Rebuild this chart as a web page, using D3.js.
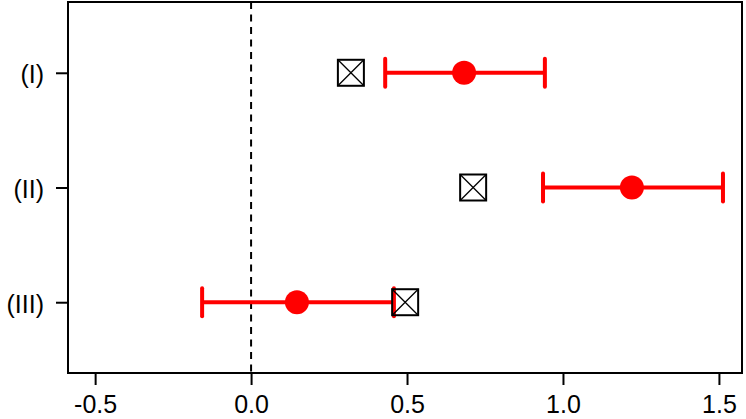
<!DOCTYPE html>
<meta charset="utf-8">
<html>
<head>
<script src="https://d3js.org/d3.v7.min.js"></script>
<style>
  body { margin: 0; background: #fff; }
  .axis text { font: 25px "Liberation Sans", Arial, sans-serif; fill: #000; }
  .axis path, .axis line { stroke: #000; stroke-width: 2px; }
</style>
</head>
<body>
<script>
// data
var groups = ["(I)", "(II)", "(III)"];
var estimate = [0.683, 1.221, 0.147];
var lower = [0.43, 0.936, -0.157];
var upper = [0.942, 1.513, 0.458];
var reference = [0.32, 0.712, 0.494];
var xTicks = [-0.5, 0.0, 0.5, 1.0, 1.5];

var W = 746, H = 419;
var box = {left: 68, right: 742, top: 2, bottom: 373};

var svg = d3.select("body").append("svg")
  .attr("width", W)
  .attr("height", H);

var x = d3.scaleLinear().domain([-0.587, 1.574]).range([box.left, box.right]);
var y = d3.scaleLinear().domain([0.383, 3.617]).range([box.top, box.bottom]);

var rows = groups.map(function(g, i) {
  return {name: g, pos: i + 1, est: estimate[i], lo: lower[i], hi: upper[i], ref: reference[i]};
});

// zero line
svg.append("line")
  .attr("x1", x(0)).attr("x2", x(0))
  .attr("y1", box.top).attr("y2", box.bottom)
  .attr("stroke", "#000")
  .attr("stroke-width", 2)
  .attr("stroke-dasharray", "7,5.5");

// confidence intervals
var ci = svg.append("g").selectAll("g").data(rows).enter().append("g");
ci.append("line")
  .attr("x1", d => x(d.lo)).attr("x2", d => x(d.hi))
  .attr("y1", d => y(d.pos)).attr("y2", d => y(d.pos))
  .attr("stroke", "red").attr("stroke-width", 4);
ci.selectAll(".cap").data(d => [[d.lo, d.pos], [d.hi, d.pos]]).enter().append("line")
  .attr("x1", d => x(d[0])).attr("x2", d => x(d[0]))
  .attr("y1", d => y(d[1]) - 14).attr("y2", d => y(d[1]) + 14)
  .attr("stroke", "red").attr("stroke-width", 4).attr("stroke-linecap", "round");
ci.append("circle")
  .attr("cx", d => x(d.est)).attr("cy", d => y(d.pos))
  .attr("r", 12).attr("fill", "red");

// reference squares with a cross
var s = 13;
var sq = svg.append("g").selectAll("g").data(rows).enter().append("g")
  .attr("transform", d => "translate(" + x(d.ref) + "," + y(d.pos) + ")");
sq.append("rect")
  .attr("x", -s).attr("y", -s).attr("width", 2 * s).attr("height", 2 * s)
  .attr("fill", "none").attr("stroke", "#000").attr("stroke-width", 2);
sq.append("path")
  .attr("d", "M" + (-s) + "," + (-s) + "L" + s + "," + s + "M" + s + "," + (-s) + "L" + (-s) + "," + s)
  .attr("stroke", "#000").attr("stroke-width", 1.3).attr("fill", "none");

// box
svg.append("rect")
  .attr("x", box.left).attr("y", box.top)
  .attr("width", box.right - box.left).attr("height", box.bottom - box.top)
  .attr("fill", "none").attr("stroke", "#000").attr("stroke-width", 2);

// axes
svg.append("g")
  .attr("class", "axis")
  .attr("transform", "translate(0," + box.bottom + ")")
  .call(d3.axisBottom(x).tickValues(xTicks).tickFormat(d => d.toFixed(1)).tickSize(12).tickPadding(10))
  .call(g => g.select(".domain").remove());

svg.append("g")
  .attr("class", "axis")
  .attr("transform", "translate(" + box.left + ",0)")
  .call(d3.axisLeft(y).tickValues([1, 2, 3]).tickFormat((d, i) => groups[i]).tickSize(12).tickPadding(12))
  .call(g => g.select(".domain").remove())
  .selectAll("text").attr("dy", "0.4em");
</script>
</body>
</html>
